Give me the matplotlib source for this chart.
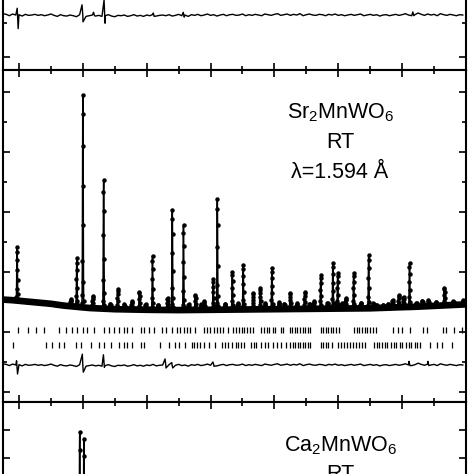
import numpy as np
import matplotlib.pyplot as plt
from matplotlib.ticker import MultipleLocator

plt.rcParams['font.family'] = ['Liberation Sans', 'DejaVu Sans']
plt.rcParams['mathtext.fontset'] = 'custom'
plt.rcParams['mathtext.rm'] = 'Liberation Sans'
plt.rcParams['mathtext.default'] = 'regular'

# Sr2MnWO6 RT pattern: peak positions (2theta) and counts at the top
sr_peak_tt = [9.4, 12.5, 14.6, 18.1, 20.1, 22.0, 26.2, 28.1, 30.0, 33.1, 36.5, 38.6,
              40.9, 43.0, 45.3, 47.7, 49.6, 51.8, 53.6, 56.5, 58.0, 61.5, 63.1, 65.2,
              67.0, 68.0, 70.8, 72.1, 74.5, 76.8, 78.5, 80.2, 83.3, 85.5, 87.1, 89.2,
              91.4, 93.1, 94.9, 97.0, 99.5, 101.0, 102.3, 104.5, 106.6, 108.3, 109.8,
              111.1, 112.3, 114.8, 117.0, 119.5, 121.0, 122.0, 124.0, 125.6, 127.0,
              128.9, 130.4, 132.3, 134.5, 136.3, 138.2, 140.5, 143.2, 146.0, 149.0]
sr_peak_top = [1420, 520, 510, 500, 480, 450, 550, 1230, 3950, 600, 2530, 470,
               720, 460, 520, 670, 460, 1270, 450, 560, 2030, 1780, 460, 620,
               460, 520, 880, 2220, 470, 1000, 480, 1120, 650, 730, 480, 1070,
               500, 470, 650, 480, 670, 470, 510, 950, 490, 1150, 980,
               480, 570, 980, 490, 1280, 480, 450, 450, 470, 530,
               610, 590, 1150, 490, 520, 530, 500, 740, 510, 530]

# background level
bg_tt = [5, 8, 12, 16, 20, 24, 28, 32, 36, 40, 50, 60, 70, 80, 90, 100,
         110, 120, 128, 134, 140, 149.7]
bg_cnt = [540, 530, 510, 490, 470, 440, 420, 400, 390, 380, 370, 365, 370,
          375, 380, 385, 390, 395, 410, 420, 435, 460]

# profile of one reflection (offset in 2theta, fraction of height)
peak_offset = [-0.27, -0.21, -0.15, -0.09, -0.03, 0.03, 0.09, 0.15, 0.21, 0.27]
peak_shape = [0.02, 0.06, 0.22, 0.57, 0.91, 1.0, 0.76, 0.39, 0.12, 0.03]

# Bragg reflection markers, two rows
phase1_tt = [9.6, 12.7, 15.3, 17.9, 22.6, 24.7, 26.7, 28.3, 29.9, 31.4, 33.5, 36.6,
             38.2, 39.7, 41.3, 42.8, 43.9, 45.5, 48.1, 49.1, 50.6, 52.2, 54.8, 55.9,
             58.0, 59.5, 60.5, 61.6, 62.6, 63.7, 65.2, 67.8, 68.9, 69.9, 71.0, 72.0,
             73.0, 74.0, 75.6, 76.9, 78.0, 79.0, 79.7, 80.5, 81.4, 82.4, 83.3, 85.8,
             86.7, 87.7, 88.3, 89.5, 90.2, 92.0, 92.7, 94.9, 95.6, 96.4, 97.2, 98.0,
             98.8, 99.5, 100.5, 101.1, 104.5, 105.3, 106.1, 106.9, 107.6, 108.4, 109.2,
             110.1, 114.8, 115.8, 116.5, 117.3, 118.3, 119.0, 119.8, 120.8, 121.7,
             127.0, 128.6, 130.1, 132.6, 136.4, 137.9, 142.9, 143.8, 146.3, 148.8]
phase2_tt = [8.2, 18.4, 20.5, 22.6, 24.1, 27.8, 29.3, 32.5, 35.0, 36.6, 38.7, 41.3,
             42.8, 43.9, 45.5, 48.1, 49.1, 54.3, 56.9, 59.0, 60.0, 62.1, 64.2, 64.7,
             65.7, 66.8, 67.8, 69.4, 71.5, 73.5, 74.6, 75.6, 76.8, 78.0, 78.6, 79.6,
             80.5, 82.7, 83.6, 84.3, 85.8, 87.1, 88.0, 89.5, 90.8, 92.0, 93.6, 95.0,
             95.8, 96.6, 97.4, 98.1, 98.9, 99.7, 100.5, 101.1, 104.5, 105.3, 106.1,
             106.9, 108.0, 109.8, 110.8, 111.7, 112.6, 113.6, 114.5, 115.5, 116.4,
             117.3, 118.3, 121.1, 122.0, 122.9, 123.7, 124.5, 125.4, 126.4, 127.3,
             128.2, 129.2, 130.1, 131.1, 132.0, 132.9, 133.9, 134.8, 135.7, 138.8,
             141.0, 142.6, 145.7]

# difference curve (obs - calc), one value per degree from 5 to 149
diff_tt = list(range(5, 150))
diff_noise = [20, 10, -10, 15, 0, 5, -15, 10, -5, 0,
              10, -5, 5, -10, 0, 15, -5, -20, 5, -10,
              -15, 0, -10, -25, 5, -5, -20, -10, 0, -15,
              -5, -20, -10, 5, -15, -25, -5, -10, 0, -20,
              -10, 5, -15, -5, -20, 0, -10, 10, -15, -5,
              0, -10, 5, -15, -5, 10, -10, 0, -20, 5,
              -5, 10, -10, 0, 15, -5, 5, -15, 0, 10,
              -10, 5, 10, -5, 0, 15, -10, 5, -5, 10,
              0, -10, 15, 5, -5, 10, 20, -5, 5, 15,
              -5, 10, 0, 20, -10, 5, 15, 0, -5, 10,
              5, -10, 10, 0, 15, -5, 5, -10, 0, 10,
              -5, 5, 15, -10, 0, 10, -5, 5, -15, 0,
              5, -10, 0, 10, -5, 5, 20, 0, -10, 5,
              30, 10, -5, 15, 0, 10, -10, 20, 5, -5,
              10, 0, -10, 5, 0]
mid_spike_tt = [9.4, 30.0, 36.6, 55.9, 58.0, 70.9, 132.3, 138.2]
mid_spike_up = [70, 180, 170, 100, 40, 50, 60, 60]
mid_spike_dn = [-150, -120, -40, -50, -50, -20, -10, -10]
top_spike_tt = [9.6, 29.9, 33.5, 36.8, 52.2, 61.6, 133.5]
top_spike_up = [100, 150, 40, 220, 30, 40, 45]
top_spike_dn = [-200, -100, -10, -120, -20, -30, -10]

# Ca2MnWO6 panel, only the top of the strongest doublet is in view
ca_peak_tt = [29.0, 30.3]
ca_peak_top = [3960, 3840]
ca_bg_tt = [5, 149.7]
ca_bg_cnt = [500, 450]


def draw_peaks(ax, tts, tops, base_x, base_y):
    for t, h in zip(tts, tops):
        px = t + np.array(peak_offset)
        base = np.interp(px, base_x, base_y)
        py = base + (h - base) * np.array(peak_shape)
        ax.plot(px, py, '-', color='k', lw=1.1, marker='o', ms=3.2, mew=0)


def diff_curve(offset, spk_tt, spk_up, spk_dn):
    x = list(diff_tt) + [t - 0.15 for t in spk_tt] + [t + 0.15 for t in spk_tt]
    y = list(diff_noise) + list(spk_up) + list(spk_dn)
    order = np.argsort(x, kind='stable')
    return np.array(x, float)[order], offset + np.array(y, float)[order]


def style(ax, ylim, major, minor=None):
    ax.set_xlim(5, 149.7)
    ax.set_ylim(*ylim)
    ax.set_xticks(range(10, 151, 20))
    ax.set_xticks(range(20, 150, 20), minor=True)
    ax.yaxis.set_major_locator(MultipleLocator(major))
    if minor:
        ax.yaxis.set_minor_locator(MultipleLocator(minor))
    ax.tick_params(which='both', direction='in', top=True, right=True,
                   labelbottom=False, labelleft=False, width=1.2)
    ax.tick_params(which='major', length=5)
    ax.tick_params(which='minor', length=2.6)
    for s in ax.spines.values():
        s.set_linewidth(1.5)


fig = plt.figure(figsize=(4.74, 4.74), dpi=100)
left, width = 3 / 474, 463 / 474
h = 332 / 474
mid_bottom = 1 - 402 / 474

ax_top = fig.add_axes([left, mid_bottom + h, width, h])
ax_mid = fig.add_axes([left, mid_bottom, width, h])
ax_bot = fig.add_axes([left, mid_bottom - h, width, h])

# top panel: only its difference curve shows
dx, dy = diff_curve(-383, top_spike_tt, top_spike_up, top_spike_dn)
ax_top.plot(dx, dy, color='k', lw=1.0)
style(ax_top, (-1191, 3689), 1000, 500)

# middle panel: Sr2MnWO6
ax_mid.plot(bg_tt, bg_cnt, color='k', lw=4.8, solid_capstyle='butt')
draw_peaks(ax_mid, sr_peak_tt, sr_peak_top, bg_tt, bg_cnt)
ax_mid.plot(phase1_tt, [25] * len(phase1_tt), '|', color='k', ms=4.5, mew=0.9)
ax_mid.plot(phase2_tt, [-225] * len(phase2_tt), '|', color='k', ms=4.5, mew=0.9)
dx, dy = diff_curve(-550, mid_spike_tt, mid_spike_up, mid_spike_dn)
ax_mid.plot(dx, dy, color='k', lw=1.0)
style(ax_mid, (-1167, 4367), 1000, 500)
ax_mid.text(110.7, 3567, 'Sr$_2$MnWO$_6$', ha='center', va='baseline', fontsize=15.5)
ax_mid.text(110.7, 3062, 'RT', ha='center', va='baseline', fontsize=15.5)
ax_mid.text(110.3, 2561, 'λ=1.594 Å', ha='center', va='baseline', fontsize=15.5)

# bottom panel: Ca2MnWO6 (its RT line is cut by the figure edge, as in the source)
ax_bot.plot(ca_bg_tt, ca_bg_cnt, color='k', lw=4.0)
draw_peaks(ax_bot, ca_peak_tt, ca_peak_top, ca_bg_tt, ca_bg_cnt)
style(ax_bot, (-1429, 4500), 500)
ax_bot.text(110.7, 3612, 'Ca$_2$MnWO$_6$', ha='center', va='baseline', fontsize=15.5)
ax_bot.text(110.7, 3107, 'RT', ha='center', va='baseline', fontsize=15.5)

fig.savefig('out.png', dpi=100)
